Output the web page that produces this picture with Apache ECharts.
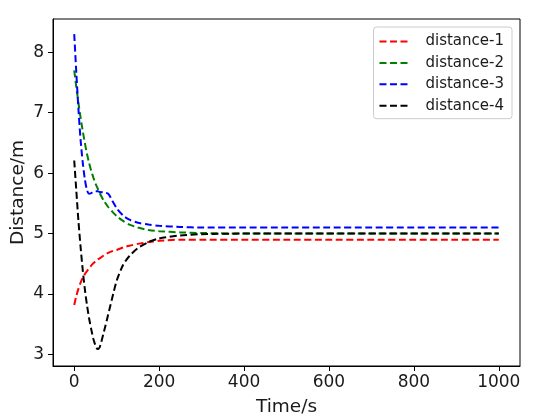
<!DOCTYPE html>
<html>
<head>
<meta charset="utf-8">
<script src="https://cdn.jsdelivr.net/npm/echarts@6/dist/echarts.min.js"></script>
<style>
  html, body { margin: 0; padding: 0; background: #fff; }
  #chart { width: 550px; height: 419px; }
</style>
</head>
<body>
<div id="chart"></div>
<script>
// values
const times = [0, 5, 10, 15, 20, 25, 30, 35, 40, 45, 50, 55, 60, 70, 80, 90, 100, 115, 130, 150, 175, 200, 250, 300, 400, 500, 600, 700, 800, 900, 1000];
const dist1 = [3.82, 3.97, 4.09, 4.19, 4.27, 4.33, 4.38, 4.43, 4.47, 4.51, 4.54, 4.57, 4.59, 4.64, 4.68, 4.71, 4.73, 4.77, 4.80, 4.83, 4.86, 4.88, 4.90, 4.90, 4.90, 4.90, 4.90, 4.90, 4.90, 4.90, 4.90];
const dist2 = [7.70, 7.42, 7.16, 6.92, 6.70, 6.50, 6.32, 6.17, 6.04, 5.93, 5.83, 5.75, 5.67, 5.54, 5.44, 5.36, 5.29, 5.21, 5.15, 5.10, 5.06, 5.04, 5.02, 5.01, 5.00, 5.00, 5.00, 5.00, 5.00, 5.00, 5.00];
const dist3 = [8.30, 7.65, 7.05, 6.55, 6.18, 5.90, 5.72, 5.66, 5.67, 5.69, 5.70, 5.70, 5.69, 5.68, 5.66, 5.54, 5.42, 5.30, 5.23, 5.18, 5.15, 5.13, 5.11, 5.10, 5.10, 5.10, 5.10, 5.10, 5.10, 5.10, 5.10];
const dist4 = [6.21, 5.70, 5.20, 4.78, 4.40, 4.08, 3.82, 3.60, 3.42, 3.26, 3.15, 3.09, 3.12, 3.38, 3.66, 3.95, 4.22, 4.48, 4.63, 4.76, 4.86, 4.92, 4.97, 4.99, 5.00, 5.00, 5.00, 5.00, 5.00, 5.00, 5.00];
const names = ['distance-1', 'distance-2', 'distance-3', 'distance-4'];
const colors = ['#ff0000', '#008000', '#0000ff', '#000000'];
const xTicks = [0, 200, 400, 600, 800, 1000];
const yTicks = [3, 4, 5, 6, 7, 8];

const font = 'DejaVu Sans';
const txt = '#1a1a1a';
const chart = echarts.init(document.getElementById('chart'));

const seriesData = [dist1, dist2, dist3, dist4].map((vals, k) => ({
  name: names[k],
  type: 'line',
  data: times.map((t, i) => [t, vals[i]]),
  symbol: 'none',
  showSymbol: false,
  smooth: 0.25,
  color: colors[k],
  lineStyle: { color: colors[k], width: 2, type: [7, 3.5] },
  animation: false
}));

chart.setOption({
  backgroundColor: '#fff',
  grid: {
    left: 53, right: 30, top: 19, bottom: 53,
    containLabel: false, outerBoundsMode: 'none',
    show: true, borderColor: '#000', borderWidth: 1, backgroundColor: 'transparent'
  },
  legend: {
    orient: 'vertical',
    right: 38, top: 27,
    data: names,
    itemWidth: 30, itemHeight: 14, itemGap: 6.4,
    padding: [7, 8, 5.5, 5],
    borderColor: '#cccccc', borderWidth: 1, borderRadius: 3,
    backgroundColor: 'rgba(255,255,255,0.8)',
    itemStyle: { opacity: 0, borderWidth: 0 },
    textStyle: { fontFamily: font, fontSize: 15, color: txt, padding: [0, 0, 0, 11] }
  },
  xAxis: {
    type: 'value', min: -50, max: 1050,
    name: 'Time/s', nameLocation: 'middle', nameGap: 32, nameMoveOverlap: false,
    nameTextStyle: { fontFamily: font, fontSize: 18.5, color: txt },
    axisLine: { show: true, onZero: false, lineStyle: { color: '#000', width: 1 } },
    axisTick: { show: true, length: 5, customValues: xTicks, lineStyle: { color: '#000' } },
    axisLabel: { customValues: xTicks, formatter: v => String(v), fontFamily: font, fontSize: 17, color: txt, margin: 8 },
    splitLine: { show: false }
  },
  yAxis: {
    type: 'value', min: 2.81, max: 8.55,
    name: 'Distance/m', nameLocation: 'middle', nameGap: 25, nameMoveOverlap: false,
    nameTextStyle: { fontFamily: font, fontSize: 18.5, color: txt },
    axisLine: { show: true, onZero: false, lineStyle: { color: '#000', width: 1 } },
    axisTick: { show: true, length: 5, customValues: yTicks, lineStyle: { color: '#000' } },
    axisLabel: { customValues: yTicks, formatter: v => String(v), fontFamily: font, fontSize: 17, color: txt, margin: 9 },
    splitLine: { show: false }
  },
  series: seriesData
});
</script>
</body>
</html>
